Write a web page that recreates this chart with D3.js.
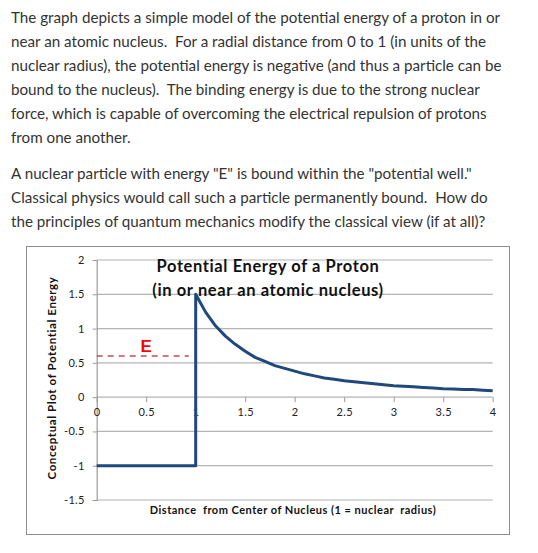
<!DOCTYPE html>
<html>
<head>
<meta charset="utf-8">
<script src="https://cdn.jsdelivr.net/npm/d3@7"></script>
<style>
  html, body { margin: 0; padding: 0; background: #fff; }
  svg { display: block; }
</style>
</head>
<body>
<svg id="chart" width="538" height="553"></svg>
<script>
// ---------- DATA ----------
const paragraph1 = [
  "The graph depicts a simple model of the potential energy of a proton in or",
  "near an atomic nucleus.  For a radial distance from 0 to 1 (in units of the",
  "nuclear radius), the potential energy is negative (and thus a particle can be",
  "bound to the nucleus).  The binding energy is due to the strong nuclear",
  "force, which is capable of overcoming the electrical repulsion of protons",
  "from one another."
];
const paragraph2 = [
  "A nuclear particle with energy \"E\" is bound within the \"potential well.\"",
  "Classical physics would call such a particle permanently bound.  How do",
  "the principles of quantum mechanics modify the classical view (if at all)?"
];
const titleLines = ["Potential Energy of a Proton", "(in or near an atomic nucleus)"];
const xAxisTitle = "Distance  from Center of Nucleus (1 = nuclear  radius)";
const yAxisTitle = "Conceptual Plot of Potential Energy";
const xTicks = [0, 0.5, 1, 1.5, 2, 2.5, 3, 3.5, 4];
const yTicks = [-1.5, -1, -0.5, 0, 0.5, 1, 1.5, 2];
// potential curve: well then decaying barrier
const wellX = [0, 1, 1];
const wellY = [-1, -1, 1.5];
const tailX = [1.1, 1.2, 1.3, 1.4, 1.5, 1.6, 1.7, 1.8, 1.9, 2.0, 2.1, 2.2, 2.3, 2.4, 2.5,
               2.6, 2.7, 2.8, 2.9, 3.0, 3.1, 3.2, 3.3, 3.4, 3.5, 3.6, 3.7, 3.8, 3.9, 4.0];
const tailY = [1.24, 1.04, 0.89, 0.77, 0.67, 0.58, 0.52, 0.46, 0.42, 0.38, 0.34, 0.31, 0.28, 0.26, 0.24,
               0.225, 0.21, 0.195, 0.18, 0.165, 0.158, 0.15, 0.14, 0.132, 0.124, 0.12, 0.112, 0.11, 0.1, 0.092];
const energyX = [0, 0.93];
const energyY = [0.6, 0.6];
const energyLabel = "E";

// ---------- DRAW ----------
const svg = d3.select("#chart");

// paragraphs
const textFont = "Lato, 'Open Sans', sans-serif";
const p1 = svg.append("g").attr("font-family", textFont).attr("font-size", 15.2).attr("fill", "#333");
paragraph1.forEach((t, i) => {
  p1.append("text").attr("x", 11).attr("y", 23 + i * 24).attr("xml:space", "preserve").text(t);
});
paragraph2.forEach((t, i) => {
  p1.append("text").attr("x", 11).attr("y", 179 + i * 24).attr("xml:space", "preserve").text(t);
});

// chart frame
svg.append("rect").attr("x", 26.5).attr("y", 246.5).attr("width", 483).attr("height", 288)
  .attr("fill", "#fff").attr("stroke", "#8c8c8c").attr("stroke-width", 1);

const x = d3.scaleLinear().domain([0, 4]).range([96.7, 492.7]);
const y = d3.scaleLinear().domain([-1.5, 2]).range([500, 260]);

const chartFont = "Lato, sans-serif";

// gridlines
svg.append("g").selectAll("line").data(yTicks).join("line")
  .attr("x1", x(0)).attr("x2", x(4))
  .attr("y1", d => y(d)).attr("y2", d => y(d))
  .attr("stroke", "#b4b4b4").attr("stroke-width", 1.2);

// y axis
const yAxis = d3.axisLeft(y).tickValues(yTicks).tickSize(4).tickPadding(8)
  .tickFormat(d => d3.format("")(d).replace("−", "-"));
const gy = svg.append("g").attr("transform", `translate(${x(0)},0)`).call(yAxis);
gy.select(".domain").attr("stroke", "#9a9a9a").attr("stroke-width", 1.2);
gy.selectAll(".tick line").attr("stroke", "#9a9a9a");
gy.selectAll(".tick text").attr("font-family", chartFont).attr("font-size", 11)
  .attr("letter-spacing", 0.3).attr("fill", "#222");

// x axis at y=0
const xAxis = d3.axisBottom(x).tickValues(xTicks).tickSize(5).tickPadding(6)
  .tickFormat(d3.format(""));
const gx = svg.append("g").attr("transform", `translate(0,${y(0)})`).call(xAxis);
gx.select(".domain").remove();
gx.selectAll(".tick line").attr("stroke", "#9a9a9a");
gx.selectAll(".tick text").attr("font-family", chartFont).attr("font-size", 11)
  .attr("letter-spacing", 0.3).attr("fill", "#222");

// titles
const tg = svg.append("g").attr("font-family", "Lato, sans-serif").attr("font-weight", "bold")
  .attr("font-size", 16.5).attr("letter-spacing", 0.6).attr("fill", "#111").attr("text-anchor", "middle");
tg.append("text").attr("x", 268).attr("y", 272).text(titleLines[0]);
tg.append("text").attr("x", 268).attr("y", 296).text(titleLines[1]);

svg.append("text").attr("x", 293).attr("y", 514).attr("text-anchor", "middle")
  .attr("font-family", "Lato, sans-serif").attr("font-weight", "bold").attr("font-size", 11)
  .attr("letter-spacing", 0.5)
  .attr("fill", "#111").attr("xml:space", "preserve").text(xAxisTitle);

svg.append("text").attr("transform", "translate(56,378) rotate(-90)").attr("text-anchor", "middle")
  .attr("font-family", "Lato, sans-serif").attr("font-weight", "bold").attr("font-size", 11.5)
  .attr("letter-spacing", 0.6)
  .attr("fill", "#111").text(yAxisTitle);

// energy dashed line
const line = d3.line().x(d => x(d[0])).y(d => y(d[1]));
svg.append("path").datum(d3.zip(energyX, energyY)).attr("d", line)
  .attr("fill", "none").attr("stroke", "#c0504d").attr("stroke-width", 1.5)
  .attr("stroke-dasharray", "6,5");
svg.append("text").attr("x", x(0.5)).attr("y", y(0.6) - 4).attr("text-anchor", "middle")
  .attr("font-family", "'Liberation Sans', Arial, sans-serif").attr("font-weight", "bold")
  .attr("font-size", 17).attr("fill", "#ff0000").text(energyLabel);

// potential curve
const pts = d3.zip(wellX.concat(tailX), wellY.concat(tailY));
svg.append("path").datum(pts).attr("d", line)
  .attr("fill", "none").attr("stroke", "#1f497d").attr("stroke-width", 3)
  .attr("stroke-linejoin", "round");
</script>
</body>
</html>
